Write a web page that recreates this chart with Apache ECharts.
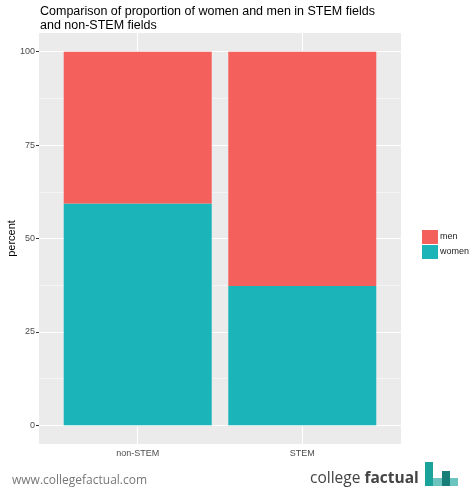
<!DOCTYPE html>
<html>
<head>
    <meta charset="UTF-8">
    <title>STEM proportion</title>
    <script src="https://cdn.jsdelivr.net/npm/echarts/dist/echarts.min.js"></script>
    <style>
        html, body { margin: 0; padding: 0; background: #fff; }
        #chart { width: 474px; height: 496px; }
    </style>
</head>
<body>
    <div id="chart"></div>
    <script type="text/javascript">
        // data
        var categories = ['non-STEM', 'STEM'];
        var catPos = [1, 2];
        var women = [59.4, 37.3];
        var men = [40.6, 62.7];
        var yTicks = [0, 25, 50, 75, 100];
        var yMinor = [12.5, 37.5, 62.5, 87.5];

        var menColor = '#F4615C';
        var womenColor = '#1BB4B8';

        // value first so that the stack is done on the y values
        function pairs(vals) {
            return vals.map(function (v, i) { return [v, catPos[i]]; });
        }

        // panel grid lines (ggplot style, under the bars)
        var gridLines = [];
        yTicks.forEach(function (v) {
            gridLines.push({ yAxis: v, lineStyle: { width: 1.1 } });
        });
        yMinor.forEach(function (v) {
            gridLines.push({ yAxis: v, lineStyle: { width: 0.5 } });
        });
        catPos.forEach(function (v) {
            gridLines.push({ xAxis: v, lineStyle: { width: 1.1 } });
        });

        var chart = echarts.init(document.getElementById('chart'));

        var option = {
            animation: false,
            title: {
                text: 'Comparison of proportion of women and men in STEM fields\nand non-STEM fields',
                left: 35,
                top: 0,
                textStyle: {
                    fontFamily: 'Liberation Sans',
                    fontWeight: 'normal',
                    fontSize: 12.5,
                    lineHeight: 13.5,
                    color: '#000'
                }
            },
            legend: {
                data: ['men', 'women'],
                orient: 'vertical',
                left: 417,
                top: 225,
                icon: 'rect',
                itemWidth: 16,
                itemHeight: 14,
                itemGap: 1,
                selectedMode: false,
                textStyle: { fontFamily: 'Liberation Sans', fontSize: 9, color: '#222', padding: [0, 0, 0, -3] }
            },
            grid: {
                left: 39,
                top: 33,
                width: 362,
                height: 411,
                outerBoundsMode: 'none',
                containLabel: false,
                show: true,
                backgroundColor: '#EBEBEB',
                borderWidth: 0
            },
            xAxis: {
                type: 'value',
                min: 0.4,
                max: 2.6,
                splitLine: { show: false },
                axisLine: { show: false },
                axisTick: { show: true, customValues: catPos, length: 3, lineStyle: { color: '#333' } },
                axisLabel: {
                    customValues: catPos,
                    formatter: function (v) { return categories[Math.round(v) - 1]; },
                    fontFamily: 'Liberation Sans',
                    fontSize: 9,
                    color: '#4D4D4D',
                    margin: 5
                }
            },
            yAxis: {
                type: 'value',
                min: -5,
                max: 105,
                name: 'percent',
                nameLocation: 'middle',
                nameRotate: 90,
                nameGap: 22,
                nameMoveOverlap: false,
                nameTextStyle: { fontFamily: 'Liberation Sans', fontSize: 11, color: '#000' },
                splitLine: { show: false },
                axisLine: { show: false },
                axisTick: { show: true, customValues: yTicks, length: 3, lineStyle: { color: '#333' } },
                axisLabel: {
                    customValues: yTicks,
                    fontFamily: 'Liberation Sans',
                    fontSize: 9,
                    color: '#4D4D4D',
                    margin: 4
                }
            },
            series: [
                {
                    name: 'gridlines',
                    type: 'line',
                    data: [],
                    z: 1,
                    silent: true,
                    markLine: {
                        silent: true,
                        symbol: 'none',
                        label: { show: false },
                        z: 1,
                        lineStyle: { color: '#fff', type: 'solid' },
                        data: gridLines
                    }
                },
                {
                    name: 'women',
                    type: 'bar',
                    stack: 'total',
                    barWidth: 148,
                    z: 3,
                    encode: { x: 1, y: 0 },
                    itemStyle: { color: womenColor },
                    data: pairs(women)
                },
                {
                    name: 'men',
                    type: 'bar',
                    stack: 'total',
                    barWidth: 148,
                    z: 3,
                    encode: { x: 1, y: 0 },
                    itemStyle: { color: menColor },
                    data: pairs(men)
                }
            ],
            graphic: [
                {
                    type: 'text',
                    left: 12,
                    top: 475,
                    style: { text: 'www.collegefactual.com', fontFamily: 'Open Sans', fontSize: 12, fill: '#777' }
                },
                {
                    type: 'text',
                    left: 310,
                    top: 471,
                    style: {
                        text: '{a|college }{b|factual}',
                        rich: {
                            a: { fontFamily: 'Open Sans', fontSize: 15.5, fill: '#444' },
                            b: { fontFamily: 'Open Sans', fontSize: 15.5, fontWeight: 'bold', fill: '#444' }
                        }
                    }
                },
                { type: 'rect', shape: { x: 425, y: 478, width: 33, height: 8 }, style: { fill: '#6CC4BF' } },
                { type: 'rect', shape: { x: 425, y: 462, width: 8, height: 24 }, style: { fill: '#1AA39B' } },
                { type: 'rect', shape: { x: 442, y: 471, width: 8, height: 15 }, style: { fill: '#177E78' } }
            ]
        };

        chart.setOption(option);
    </script>
</body>
</html>
